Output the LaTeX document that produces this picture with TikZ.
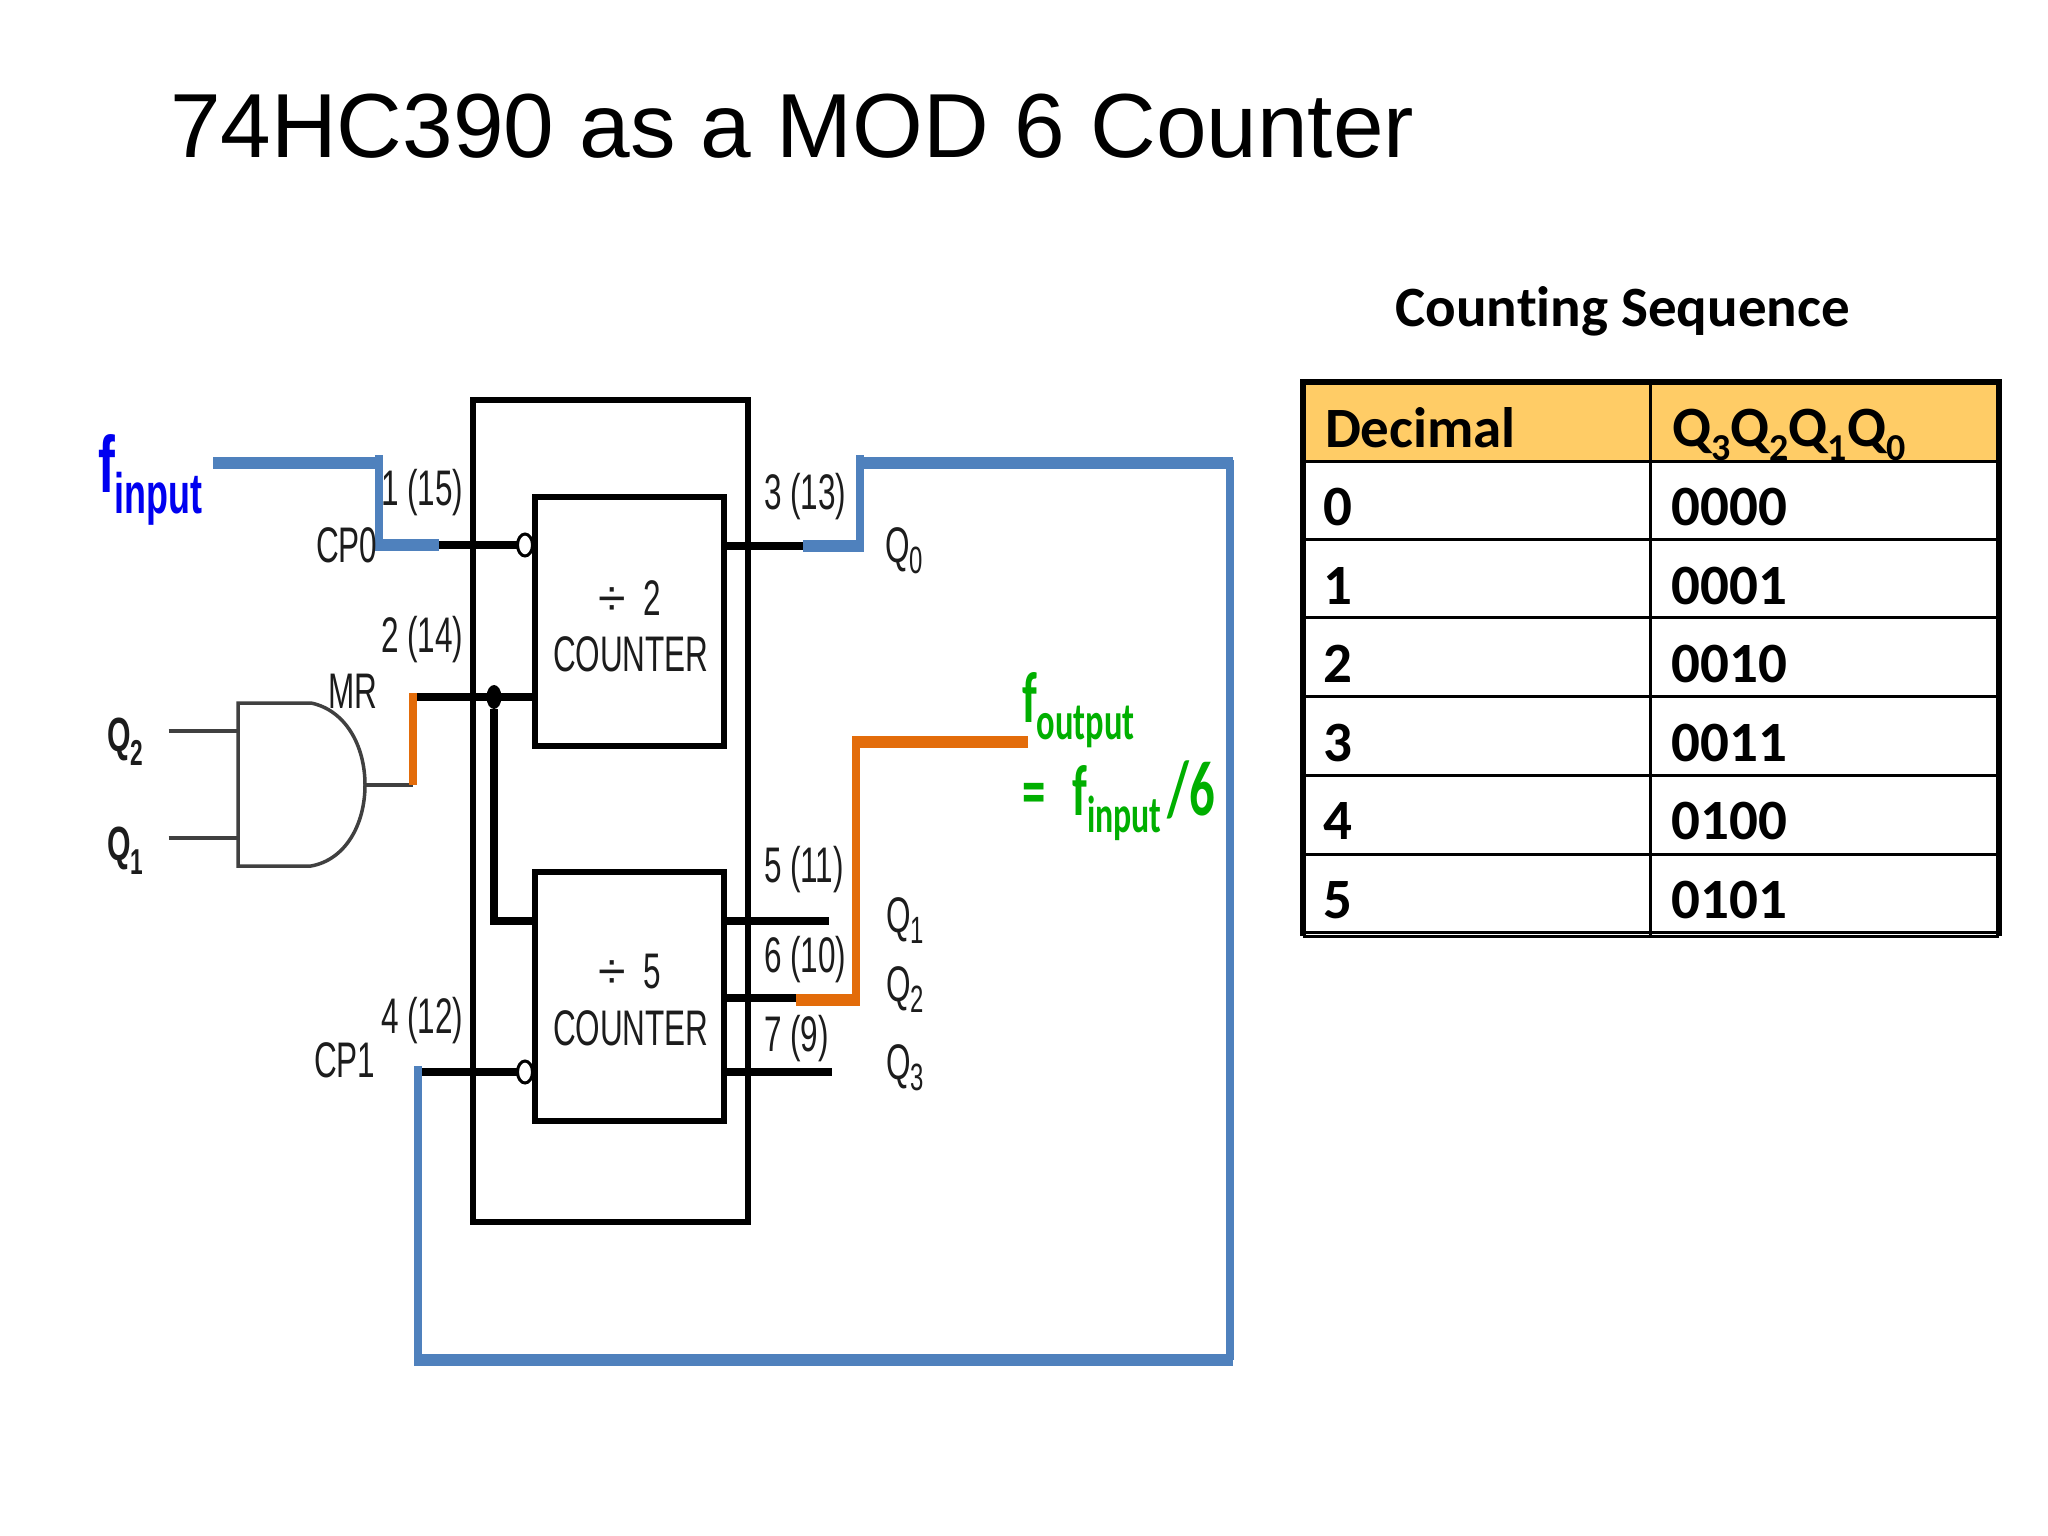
\documentclass[tikz,border=0pt]{standalone}
\usepackage{fontspec}
\usetikzlibrary{shapes.geometric}
\setmainfont{Liberation Sans}
\newfontfamily\narrowf{Liberation Sans}[FakeStretch=0.63]
\newfontfamily\sigf{Carlito}[FakeStretch=0.65]
\newfontfamily\tablef{Carlito}[Ligatures=NoCommon]
\newcommand{\fz}[1]{\fontsize{#1}{#1}\selectfont}
\newcommand{\dropsub}[3]{\raisebox{-#1pt}{\fz{#2}#3}}
\definecolor{wireblue}{HTML}{4F81BD}
\definecolor{wireorange}{HTML}{E36C0A}
\definecolor{sigblue}{HTML}{0000F0}
\definecolor{siggreen}{HTML}{00AF00}
\definecolor{headfill}{HTML}{FFCC66}
\definecolor{inkgray}{HTML}{1C1C1C}
\tikzset{
  txt/.style={inner sep=0pt,outer sep=0pt,anchor=base west},
  pin/.style={txt,font=\narrowf\fz{50},text=inkgray},
  qout/.style={txt,font=\narrowf\fz{50},text=inkgray},
  qin/.style={txt,font=\narrowf\bfseries\fz{48},text=inkgray},
  blockbox/.style={draw=black,line width=6pt,inner sep=0pt,outer sep=0pt,minimum width=189pt,minimum height=249pt},
  chipbox/.style={draw=black,line width=6pt,inner sep=0pt,outer sep=0pt,minimum width=275pt,minimum height=822pt},
  wire/.style={draw=black,line width=7.5pt},
  gateline/.style={draw=black!75,line width=3.5pt},
  blueh/.style={draw=wireblue,line width=12.5pt},
  bluev/.style={draw=wireblue,line width=8pt},
  orangeh/.style={draw=wireorange,line width=12.5pt},
  orangev/.style={draw=wireorange,line width=8pt},
  bubble/.style={ellipse,draw=black,fill=white,line width=3pt,inner sep=0pt,outer sep=0pt,minimum width=15pt,minimum height=22pt},
  junction/.style={ellipse,fill=black,inner sep=0pt,outer sep=0pt,minimum width=15pt,minimum height=24pt},
  cell/.style={txt,font=\tablef\bfseries\fz{57},text=black},
  tableouter/.style={draw=black,line width=6pt},
  tableinner/.style={draw=black,line width=3pt},
}
\begin{document}
\begin{tikzpicture}[x=1pt,y=-1pt]
\useasboundingbox (0,0) rectangle (2048,1536);
\fill[white] (0,0) rectangle (2048,1536);

% titles
\node[txt,font=\fz{91},text=black] (title) at (170,157.5) {74HC390 as a MOD 6 Counter};
\node[txt,font=\tablef\bfseries\fz{57},text=black] (seqtitle) at (1395.5,326) {Counting Sequence};

% chip and blocks
\node[chipbox] (chip) at (610.5,811) {};
\node[blockbox] (b1) at (629.5,621.5) {};
\node[blockbox] (b2) at (629.5,996.5) {};
\node[pin] (b1a) at (598,615) {{\rmfamily ÷}\hspace{18pt}2};
\node[pin] (b1b) at (553,671) {COUNTER};
\node[pin] (b2a) at (598,988) {{\rmfamily ÷}\hspace{18pt}5};
\node[pin] (b2b) at (553,1045) {COUNTER};

% named points
\coordinate (inS) at (213,463);
\coordinate (inC) at (378.5,463);
\coordinate (inD) at (378.5,545);
\coordinate (cp0end) at (439,545);
\coordinate (mrT) at (413,697);
\coordinate (mrB) at (413,785);
\coordinate (q0b) at (803,546);
\coordinate (q0C) at (860,546);
\coordinate (q0T) at (860,463);
\coordinate (fbTR) at (1233,463);
\coordinate (fbBR) at (1230,1360);
\coordinate (fbBL) at (418,1360);
\coordinate (cp1end) at (418,1072);
\coordinate (q1end) at (829,921);
\coordinate (q2b) at (796,998);
\coordinate (q2o) at (796,1000);
\coordinate (q2C) at (856,1000);
\coordinate (q2T) at (856,742);
\coordinate (outE) at (1028,742);
\coordinate (q3end) at (832,1072);
\coordinate (resetY) at (494,921);
\coordinate (gIn1) at (168.5,731);
\coordinate (gIn2) at (168.5,838);
\coordinate (gA) at (238,731);
\coordinate (gB) at (238,838);
\coordinate (gOut) at (365,785);

% black wires
\node[bubble] (bub1) at (525,545) {};
\node[bubble] (bub2) at (525,1072) {};
\node[junction] (jn) at (494,697) {};
\draw[wire] (cp0end) -- (bub1.west);
\draw[wire] (mrT) -- (b1.west |- mrT);
\draw[wire] (jn) -- (resetY) -- (b2.west |- resetY);
\draw[wire] (b1.east |- q0b) -- (q0b);
\draw[wire] (b2.east |- q1end) -- (q1end);
\draw[wire] (b2.east |- q2b) -- (q2b);
\draw[wire] (b2.east |- q3end) -- (q3end);
\draw[wire] (cp1end) -- (bub2.west);

% gate
\draw[gateline] (238,703) -- (311,703) .. controls (345,710) and (365,745) .. (gOut)
  .. controls (365,825) and (345,860) .. (311,866) -- (238,866) -- cycle;
\draw[gateline] (gIn1) -- (gA);
\draw[gateline] (gIn2) -- (gB);
\draw[gateline] (gOut) -- (mrB);

% coloured overlays
\draw[blueh] (inS) -- (inC);
\draw[bluev] (378.5,455) -- (inD);
\draw[blueh] (374.5,545) -- (cp0end);
\draw[blueh] (q0b) -- (864,546);
\draw[bluev] (q0C) -- (860,455);
\draw[blueh] (q0T) -- (fbTR);
\draw[bluev] (1230,460) -- (fbBR);
\draw[blueh] (414,1360) -- (1233,1360);
\draw[bluev] (fbBL) -- (418,1066);
\draw[orangev] (413,693) -- (mrB);
\draw[orangeh] (q2o) -- (860,1000);
\draw[orangev] (q2C) -- (q2T);
\draw[orangeh] (852,742) -- (outE);

% pin labels
\node[pin] (p1) at (381,505) {1 (15)};
\node[pin] (p2) at (381,652) {2 (14)};
\node[pin] (p3) at (764,509) {3 (13)};
\node[pin] (p4) at (381,1033) {4 (12)};
\node[pin] (p5) at (764,882) {5 (11)};
\node[pin] (p6) at (764,972) {6 (10)};
\node[pin] (p7) at (764,1051) {7 (9)};
\node[pin] (cp0) at (316,562) {CP0};
\node[pin] (cp1) at (314,1077) {CP1};
\node[pin] (mr) at (328,708.5) {MR};
\node[qout] (q0) at (885,562) {Q\dropsub{11}{38}{0}};
\node[qout] (q1) at (886,932) {Q\dropsub{11}{38}{1}};
\node[qout] (q2) at (886,1001) {Q\dropsub{11}{38}{2}};
\node[qout] (q3) at (886,1079) {Q\dropsub{11}{38}{3}};
\node[qin] (qi2) at (107,751) {Q\dropsub{14}{36}{2}};
\node[qin] (qi1) at (107,860) {Q\dropsub{14}{36}{1}};

% signal labels
\node[txt,font=\narrowf\bfseries\fz{80},text=sigblue] (finput) at (98,492) {f\dropsub{21}{57}{input}};
\node[txt,font=\sigf\bfseries\fz{72},text=siggreen] (foutput) at (1022,722) {f\dropsub{17}{53}{output}};
\node[txt,font=\sigf\bfseries\fz{72},text=siggreen] (fratio) at (1022,815) {{\fz{72}=}\hspace{27pt}f\dropsub{17}{52}{input}\hspace{6pt}{\fz{78}/6}};

% table
\fill[headfill] (1303,382) rectangle (1999,461);
\coordinate (tNW) at (1303,382);
\coordinate (tNE) at (1999,382);
\coordinate (tSW) at (1303,936);
\coordinate (tSE) at (1999,936);
\coordinate (colT) at (1650,382);
\coordinate (colB) at (1650,936);
\foreach \yy in {461,539.5,617.6,696,775,854,932,936}{
  \draw[tableinner] (tNW |- 0,\yy) -- (tNE |- 0,\yy);
}
\draw[tableinner] (colT) -- (colB);
\draw[tableouter] (tSW) -- (tNW) -- (tNE) -- (tSE);
\node[cell] (hdec) at (1325,447) {Decimal};
\node[cell] (hq) at (1672,446) {Q\dropsub{14}{38}{3}Q\dropsub{14}{38}{2}Q\dropsub{14}{38}{1}Q\dropsub{14}{38}{0}};
\foreach \i/\b/\v in {0/0000/525.6,1/0001/604,2/0010/682.6,3/0011/761,4/0100/839.6,5/0101/918}{
  \node[cell] (dec\i) at (1323.5,\v) {\i};
  \node[cell] (bin\i) at (1671.5,\v) {\b};
}
\end{tikzpicture}
\end{document}
